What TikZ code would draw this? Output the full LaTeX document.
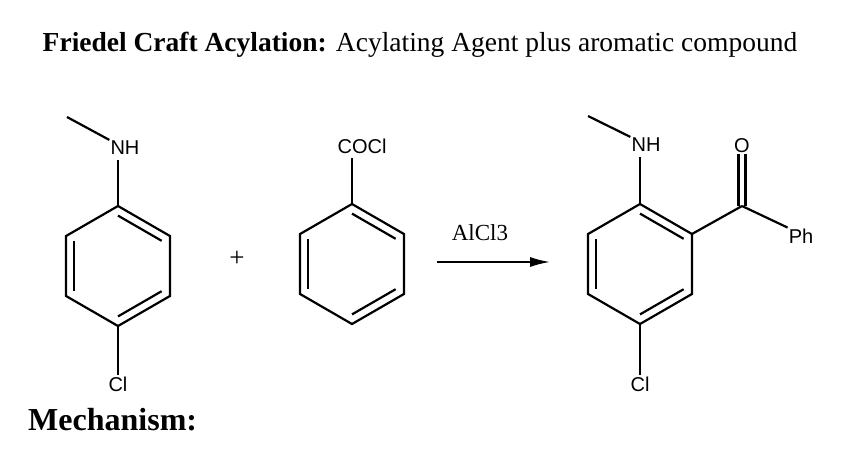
\documentclass[tikz,border=0pt]{standalone}
\usepackage{fontspec}
\setmainfont{Liberation Serif}
\newfontfamily\atomf{Liberation Sans}
\usetikzlibrary{calc,arrows.meta}
\begin{document}
\begin{tikzpicture}[x=1pt,y=-1pt,
  atom/.style={font=\atomf\fontsize{20}{22}\selectfont,inner sep=1pt},
  bond/.style={line width=2.2pt}]
\useasboundingbox (0,0) rectangle (856,456);
\newcommand\ringdraw[3]{%
  \coordinate (#1c) at (#2,#3);
  \foreach \i/\a in {0/90,1/30,2/-30,3/-90,4/-150,5/150}{
    \coordinate (#1\i) at ($(#2,#3)+({60*cos(\a)},{-60*sin(\a)})$);
  }
  \draw[bond,line join=miter] (#10)--(#11)--(#12)--(#13)--(#14)--(#15)--cycle;
  \foreach \p/\q in {0/1,2/3,4/5}{
    \draw[bond] ($(#1c)!0.84!(#1\p)$) -- ($(#1c)!0.84!(#1\q)$);
  }
}
% title
\node (title) at (420,45) {\fontsize{27.5}{30}\selectfont\textbf{Friedel Craft Acylation:} Acylating Agent plus aromatic compound};
% molecule 1
\ringdraw{a}{118}{266}
\node[atom] (nh1) at (125,148) {NH};
\coordinate (me1) at (67,117);
\draw[bond] (me1) -- (nh1.north west);
\draw[bond] (a0) -- (118,160);
\node[atom] (cl1) at (118,384) {Cl};
\draw[bond] (a3) -- (cl1.north);
\node (plus) at (237,259) {\fontsize{27}{29}\selectfont +};
% molecule 2
\ringdraw{b}{352}{264}
\node[atom] (cocl) at (362,146) {COCl};
\draw[bond] (b0) -- (352,158);
% arrow
\coordinate (ar1) at (437,262);
\coordinate (ar2) at (550,262);
\draw[line width=1.8pt,-{Latex[length=20pt,width=10pt]}] (ar1) -- (ar2);
\node (alcl) at (480,233) {\fontsize{23}{25}\selectfont AlCl3};
% product
\ringdraw{p}{640}{264}
\node[atom] (nh2) at (646,145) {NH};
\coordinate (me2) at (588,116);
\draw[bond] (me2) -- (nh2.north west);
\draw[bond] (p0) -- (640,157);
\node[atom] (cl2) at (640,384) {Cl};
\draw[bond] (p3) -- (cl2.north);
\coordinate (cc) at (742,206);
\draw[bond] (p1) -- (cc);
\node[atom] (o) at (742,146) {O};
\draw[bond] ($(cc)+(-3.5,0)$) -- ($(o.south)+(-3.5,0)$);
\draw[bond] ($(cc)+(3.5,0)$) -- ($(o.south)+(3.5,0)$);
\node[atom] (ph) at (801,236) {Ph};
\draw[bond] (cc) -- (ph.north west);
% mechanism
\node[anchor=west,inner sep=0pt] (mech) at (28,420) {\fontsize{32}{36}\selectfont\textbf{Mechanism:}};
\end{tikzpicture}
\end{document}
